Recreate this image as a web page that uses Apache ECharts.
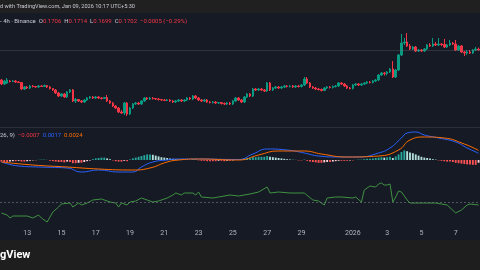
<!DOCTYPE html>
<html><head><meta charset="utf-8">
<script src="https://cdn.jsdelivr.net/npm/echarts@6/dist/echarts.min.js"></script>
<style>html,body{margin:0;padding:0;background:#161a25;}#c{width:480px;height:270px;}</style>
</head><body><div id="c"></div>
<script>
// tick labels on the time axis (category index of first 4h candle of the day)
const tickIndex = [9,21,33,45,57,69,81,93,105,123,135,147,159];
const tickLabels = ['13','15','17','19','21','23','25','27','29','2026','3','5','7'];

// 4h candles: [open, close, low, high]
const candles = [
[0.1552,0.1532,0.1527,0.1557],[0.1532,0.1547,0.1527,0.1552],[0.1537,0.1552,0.1532,0.1562],[0.1547,0.15445,0.15395,0.1552],
[0.15445,0.1547,0.1542,0.1552],[0.1547,0.1542,0.1537,0.1552],[0.1542,0.15395,0.1537,0.1547],[0.15395,0.1507,0.1502,0.1542],
[0.1507,0.1517,0.1502,0.1522],[0.1517,0.1512,0.1507,0.1522],[0.1512,0.1522,0.1507,0.1527],[0.1522,0.15195,0.15145,0.1527],
[0.15195,0.1517,0.1512,0.1522],[0.1517,0.1522,0.1512,0.1527],[0.1522,0.15195,0.1517,0.1527],[0.15195,0.15245,0.1517,0.15295],
[0.15245,0.1517,0.1512,0.1527],[0.1517,0.15095,0.15045,0.1522],[0.15095,0.1502,0.1497,0.1512],[0.1502,0.1487,0.1482,0.1507],
[0.1487,0.1472,0.1467,0.1492],[0.1472,0.1482,0.1467,0.1487],[0.1482,0.1467,0.1462,0.1487],[0.1467,0.1492,0.1462,0.1497],
[0.1492,0.1502,0.1487,0.1507],[0.1502,0.1447,0.1442,0.1507],[0.1447,0.14545,0.1437,0.1462],[0.14545,0.1447,0.1442,0.1457],
[0.1447,0.1442,0.1437,0.1452],[0.1442,0.1452,0.1437,0.1457],[0.1452,0.1462,0.1447,0.1467],[0.1462,0.1467,0.1457,0.1472],
[0.1467,0.1462,0.1457,0.1472],[0.1462,0.1467,0.1457,0.1472],[0.1467,0.1462,0.1457,0.1472],[0.1462,0.14595,0.14545,0.1467],
[0.14595,0.14645,0.1457,0.1467],[0.14645,0.1447,0.1442,0.1477],[0.1447,0.1437,0.1432,0.1452],[0.1437,0.1422,0.1417,0.1442],
[0.1422,0.1412,0.1407,0.1427],[0.1412,0.1392,0.1387,0.1417],[0.1392,0.1387,0.1382,0.1402],[0.1387,0.1437,0.1377,0.1442],
[0.1437,0.1382,0.1372,0.1442],[0.1382,0.1412,0.1377,0.1417],[0.1412,0.1432,0.1407,0.1437],[0.1432,0.1437,0.1427,0.1442],
[0.1437,0.1432,0.1427,0.1442],[0.1432,0.1447,0.1427,0.1452],[0.1447,0.1462,0.1442,0.1467],[0.1462,0.1457,0.1452,0.1467],
[0.1457,0.1462,0.1452,0.1467],[0.1462,0.14595,0.14545,0.1467],[0.14595,0.1457,0.1452,0.1462],[0.1457,0.14545,0.14495,0.1462],
[0.14545,0.1452,0.1447,0.1457],[0.1452,0.14495,0.1447,0.1457],[0.14495,0.1452,0.1447,0.1457],[0.1452,0.1447,0.1442,0.1457],
[0.1447,0.1442,0.1437,0.1452],[0.1442,0.1447,0.1437,0.1452],[0.1447,0.1452,0.1442,0.1457],[0.1452,0.1447,0.1442,0.1457],
[0.1447,0.1452,0.1442,0.1457],[0.1452,0.1462,0.1447,0.1467],[0.1462,0.1457,0.1452,0.1467],[0.1457,0.1472,0.1452,0.1477],
[0.1472,0.1462,0.1457,0.1477],[0.1462,0.1452,0.1447,0.1467],[0.1452,0.1447,0.1442,0.1457],[0.1447,0.1452,0.1442,0.1457],
[0.1452,0.1442,0.1437,0.1457],[0.1442,0.14395,0.14345,0.1447],[0.14395,0.1442,0.14345,0.1447],[0.1442,0.1437,0.1432,0.1447],
[0.1437,0.14395,0.1432,0.1442],[0.14395,0.14345,0.14295,0.1442],[0.14345,0.1432,0.1427,0.14395],[0.1432,0.1437,0.1427,0.1442],
[0.1437,0.1432,0.1427,0.1442],[0.1432,0.1447,0.1427,0.1452],[0.1447,0.1462,0.1442,0.1467],[0.1462,0.1452,0.1447,0.1467],
[0.1452,0.1442,0.1437,0.1457],[0.1442,0.1467,0.1437,0.1472],[0.1467,0.1482,0.1462,0.1487],[0.1482,0.1472,0.1467,0.1487],
[0.1472,0.1507,0.1467,0.1512],[0.1507,0.1502,0.1497,0.1512],[0.1502,0.1507,0.1497,0.1512],[0.1507,0.1502,0.1497,0.1512],
[0.1502,0.1497,0.1492,0.1507],[0.1497,0.1537,0.1492,0.1542],[0.1537,0.1502,0.1497,0.1542],[0.1502,0.1512,0.1497,0.1517],
[0.1512,0.1517,0.1507,0.1522],[0.1517,0.1512,0.1507,0.1522],[0.1512,0.1517,0.1507,0.1522],[0.1517,0.1522,0.1512,0.1527],
[0.1522,0.15195,0.15145,0.1527],[0.15195,0.1522,0.15145,0.1527],[0.1522,0.1517,0.1512,0.1527],[0.1517,0.1522,0.1512,0.1527],
[0.1522,0.15195,0.15145,0.1527],[0.15195,0.1527,0.15145,0.1532],[0.1527,0.1557,0.1522,0.1567],[0.1557,0.1537,0.1532,0.1567],
[0.1537,0.1517,0.1512,0.1542],[0.1517,0.1512,0.1507,0.1522],[0.1512,0.1507,0.1502,0.1517],[0.1507,0.15045,0.14995,0.1512],
[0.15045,0.14995,0.14945,0.15095],[0.14995,0.1512,0.1497,0.1517],[0.1512,0.1517,0.1507,0.1522],[0.1517,0.15145,0.15095,0.1522],
[0.15145,0.15195,0.15095,0.15245],[0.15195,0.1522,0.15145,0.1527],[0.1522,0.1537,0.1517,0.1542],[0.1537,0.1532,0.1527,0.1542],
[0.1532,0.1522,0.1517,0.1537],[0.1522,0.1512,0.1507,0.1527],[0.1512,0.15095,0.15045,0.1517],[0.15095,0.1527,0.15045,0.1532],
[0.1527,0.1532,0.1522,0.1537],[0.1532,0.1527,0.1522,0.1537],[0.1527,0.1532,0.1522,0.1537],[0.1532,0.1537,0.1527,0.1542],
[0.1537,0.1542,0.1532,0.1547],[0.1542,0.15395,0.15345,0.1547],[0.15395,0.1547,0.15345,0.1552],[0.1547,0.1552,0.1542,0.1557],
[0.1552,0.1577,0.1547,0.1582],[0.1577,0.1587,0.1572,0.1592],[0.1587,0.15845,0.15745,0.1592],[0.15845,0.1592,0.15745,0.1597],
[0.1592,0.1607,0.1587,0.1612],[0.1607,0.1567,0.1562,0.1647],[0.1567,0.1602,0.1562,0.1607],[0.1602,0.1677,0.1597,0.1682],
[0.1677,0.1737,0.1672,0.1782],[0.1737,0.1742,0.1727,0.1762],[0.1742,0.1722,0.1717,0.1787],[0.1722,0.1707,0.1702,0.1732],
[0.1707,0.1717,0.1702,0.1722],[0.1717,0.1697,0.1692,0.1722],[0.1697,0.1702,0.1692,0.1707],[0.1702,0.1697,0.1692,0.1707],
[0.1697,0.1707,0.1692,0.1712],[0.1707,0.1727,0.1702,0.1732],[0.1727,0.1722,0.1717,0.1737],[0.1722,0.1732,0.1717,0.1762],
[0.1732,0.1727,0.1722,0.1742],[0.1727,0.1732,0.1722,0.1762],[0.1732,0.17295,0.1722,0.1737],[0.17295,0.1717,0.1712,0.1757],
[0.1717,0.1727,0.1712,0.1732],[0.1727,0.1737,0.1722,0.1752],[0.1737,0.1732,0.1727,0.1742],[0.1732,0.1702,0.1697,0.1752],
[0.1702,0.1722,0.1697,0.1727],[0.1722,0.1692,0.1687,0.1727],[0.1692,0.1687,0.1672,0.1697],[0.1687,0.1692,0.1677,0.1702],
[0.1692,0.1687,0.1682,0.1702],[0.1687,0.1702,0.1682,0.1707],[0.1702,0.1707,0.1697,0.1717],[0.1706,0.1702,0.1699,0.1714]
];

// MACD histogram, one value per candle
const macdHist = [
-0.0004,-0.0005,-0.0005,-0.0004,-0.0003,-0.0003,-0.0002,-0.0004,-0.0004,-0.0003,-0.0002,-0.0001,-0.0001,0.00005,0.0001,0.0001,0.00002,-0.0002,-0.0003,-0.0004,
-0.0005,-0.0005,-0.0006,-0.0004,-0.0005,-0.0008,-0.0008,-0.0007,-0.0007,-0.0005,-0.0003,-0.0001,0.0002,0.0004,0.0005,0.0006,0.0006,0.0004,0.0002,-0.0001,
-0.0003,-0.0004,-0.0004,-0.0002,-0.0003,0.0001,0.0004,0.0006,0.0008,0.0010,0.0012,0.0014,0.0014,0.0013,0.0011,0.0009,0.0007,0.0006,0.0005,0.0004,
0.0003,0.0002,0.0002,0.0001,0.0001,0.0001,0.00003,0.0002,0.0001,-0.0001,-0.0002,-0.0002,-0.0003,-0.0003,-0.0003,-0.0003,-0.0002,-0.0002,-0.0003,-0.0002,
-0.0002,-0.0001,0.0001,0.0002,0.0002,0.0004,0.0005,0.0005,0.0007,0.0007,0.0008,0.0008,0.0008,0.0010,0.0008,0.0007,0.0006,0.0005,0.0004,0.0003,
0.0002,0.0001,0.0001,0.00003,-0.0001,-0.0001,0.0001,-0.0002,-0.0004,-0.0005,-0.0006,-0.0007,-0.0007,-0.0006,-0.0005,-0.0005,-0.0004,-0.0003,-0.0002,-0.0002,
-0.0002,-0.0002,-0.0001,-0.0001,0.00003,0.0001,0.0001,0.0002,0.0003,0.0003,0.0004,0.0005,0.0006,0.0007,0.0006,0.0007,0.0008,0.0005,0.0009,0.0014,
0.0020,0.0024,0.0022,0.0019,0.0017,0.0014,0.0011,0.0008,0.0006,0.0005,0.0004,0.0002,0.0001,-0.0001,-0.0002,-0.0003,-0.0004,-0.0004,-0.0005,-0.0007,
-0.0008,-0.0009,-0.0010,-0.0011,-0.0011,-0.0012,-0.0012,-0.0007
];

// MACD and signal lines: [candle index, value]
const macdLine = [[0,-0.0005],[6,-0.0015],[13,-0.00175],[23,-0.002],[28,-0.003],[34,-0.0025],[41,-0.003],[46,-0.003],[49,-0.00175],[53,-0.0005],[58,0],[62,0.00025],[69,0.00025],[83,0.000125],[88,0.0015],[93,0.00275],[100,0.0025],[106,0.00175],[111,0.001],[118,0.00075],[125,0.00075],[132,0.00175],[136,0.003],[140,0.0055],[142,0.00675],[145,0.007],[148,0.00625],[153,0.0055],[159,0.0045],[163,0.003],[167,0.0017]];
const signalLine = [[0,-0.0005],[11,-0.00125],[23,-0.00175],[34,-0.00225],[46,-0.0025],[52,-0.002],[58,-0.0005],[62,0],[69,0.00025],[83,0],[90,0.00125],[97,0.00225],[106,0.00225],[112,0.0015],[121,0.00075],[132,0.001],[139,0.0025],[143,0.005],[148,0.00575],[155,0.0055],[162,0.004],[167,0.0024]];

// RSI: [candle index, value]
const rsiLine = [[0,36.8],[2,34.4],[3,30.8],[4,33.2],[9,33.2],[11,30.8],[13,34.4],[14,30.8],[16,26],[17,32],[18,38],[20,44],[21,47.6],[24,48.8],[25,44],[27,48.8],[28,46.4],[30,48.8],[32,52.4],[35,53.6],[38,50],[40,48.8],[41,44],[42,48.8],[44,46.4],[45,50],[47,51.2],[49,54.8],[53,50],[55,51.2],[58,54.8],[60,58.4],[61,60.8],[63,58.4],[64,60.8],[67,60.8],[68,58.4],[69,62],[70,56],[74,54.8],[76,56],[80,58.4],[83,57.2],[87,59.6],[90,62],[93,68],[94,60.8],[97,62],[101,60.8],[106,60.8],[109,52.4],[111,51.2],[113,46.4],[114,54.8],[117,56],[119,56],[123,54.8],[124,56],[126,50],[127,64.4],[129,69.2],[131,68],[132,71.6],[133,72.8],[134,70.4],[135,70.4],[136,71.6],[137,50],[138,56],[139,63.2],[140,62],[142,52.4],[143,48.8],[148,48.8],[152,48.8],[154,47.6],[156,46.4],[159,36.8],[161,40.4],[163,46.4],[164,47.6],[167,46.4]];

// category axis: 4h candle times
const categories = [];
const t0 = Date.UTC(2025, 11, 11, 13, 30);
for (let i = 0; i < candles.length; i++) {
  const d = new Date(t0 + i * 4 * 3600 * 1000);
  categories.push(d.toISOString().slice(0, 16).replace('T', ' '));
}

const UP = '#089981', DOWN = '#f23645';
const histData = macdHist.map((v, i) => {
  const p = i > 0 ? macdHist[i - 1] : v;
  let c;
  if (v >= 0) c = v >= p ? '#26a69a' : '#b2dfdb';
  else c = v <= p ? '#ff5252' : '#ffcdd2';
  return { value: v, itemStyle: { color: c } };
});

const FONT = 'Roboto';
const hiddenX = (g) => ({ type: 'category', gridIndex: g, data: categories, boundaryGap: true,
  axisLine: { show: false }, axisTick: { show: false }, axisLabel: { show: false }, splitLine: { show: false } });
const hiddenY = (g, min, max) => ({ type: 'value', gridIndex: g, min, max, scale: true,
  axisLine: { show: false }, axisTick: { show: false }, axisLabel: { show: false }, splitLine: { show: false } });

const chart = echarts.init(document.getElementById('c'), null, { renderer: 'canvas' });
chart.setOption({
  backgroundColor: '#161a25',
  animation: false,
  grid: [
    { left: 0, width: 482, top: 13, height: 114 },
    { left: 0, width: 482, top: 127, height: 53 },
    { left: 0, width: 482, top: 180, height: 45 }
  ],
  xAxis: [
    hiddenX(0), hiddenX(1),
    Object.assign(hiddenX(2), {
      axisLabel: {
        show: true, color: '#b2b5be', fontSize: 7, fontFamily: FONT, margin: 5,
        interval: (idx) => tickIndex.indexOf(idx) >= 0,
        formatter: (val, idx) => tickLabels[tickIndex.indexOf(idx)] || ''
      }
    })
  ],
  yAxis: [hiddenY(0, 0.1317, 0.1887), hiddenY(1, -0.005, 0.00825), hiddenY(2, 22.4, 76.4)],
  series: [
    {
      type: 'candlestick', xAxisIndex: 0, yAxisIndex: 0, data: candles, barWidth: '70%',
      itemStyle: { color: UP, color0: DOWN, borderColor: UP, borderColor0: DOWN, borderWidth: 1 },
      markLine: { silent: true, symbol: 'none', label: { show: false },
        lineStyle: { color: 'rgba(120,123,134,0.28)', type: 'solid', width: 1 },
        data: [{ yAxis: 0.1702 }] }
    },
    { type: 'bar', xAxisIndex: 1, yAxisIndex: 1, data: histData, barWidth: '65%' },
    { type: 'line', xAxisIndex: 1, yAxisIndex: 1, data: macdLine, smooth: true, showSymbol: false,
      lineStyle: { color: '#2962ff', width: 1 } },
    { type: 'line', xAxisIndex: 1, yAxisIndex: 1, data: signalLine, smooth: true, showSymbol: false,
      lineStyle: { color: '#ff6d00', width: 1 } },
    { type: 'line', xAxisIndex: 2, yAxisIndex: 2, data: rsiLine, smooth: false, showSymbol: false,
      lineStyle: { color: '#3f9142', width: 1 },
      markLine: { silent: true, symbol: 'none', label: { show: false },
        lineStyle: { color: 'rgba(120,123,134,0.6)', type: [2, 2], width: 1 },
        data: [{ yAxis: 50 }] } }
  ],
  graphic: [
    { type: 'rect', shape: { x: 0, y: 0, width: 480, height: 13 }, style: { fill: '#202020' }, z: 10 },
    { type: 'rect', shape: { x: 0, y: 240, width: 480, height: 30 }, style: { fill: '#1e1e1e' }, z: 10 },
    { type: 'line', shape: { x1: 0, y1: 127.5, x2: 480, y2: 127.5 }, style: { stroke: '#2a2e39', lineWidth: 1 }, z: 10 },
    { type: 'text', x: 0, y: 7, z: 11, style: { text: 'd with TradingView.com, Jan 09, 2026 10:17 UTC+5:30',
      fill: '#c9ccd3', fontSize: 5.6, fontFamily: FONT, verticalAlign: 'middle' } },
    { type: 'text', x: 0, y: 21, z: 11, style: {
      text: '{a|- 4h · Binance}  {k|O}{v|0.1706}  {k|H}{v|0.1714}  {k|L}{v|0.1699}  {k|C}{v|0.1702}  {v|−0.0005 (−0.29%)}',
      fontSize: 6, fontFamily: FONT, verticalAlign: 'middle',
      rich: { a: { fill: '#c9ccd3', fontSize: 6, fontFamily: FONT }, k: { fill: '#c9ccd3', fontSize: 6, fontFamily: FONT },
              v: { fill: '#f23645', fontSize: 6, fontFamily: FONT } } } },
    { type: 'text', x: 0, y: 135, z: 11, style: {
      text: '{a|26, 9)}  {r|−0.0007}  {b|0.0017}  {o|0.0024}',
      fontSize: 6, fontFamily: FONT, verticalAlign: 'middle',
      rich: { a: { fill: '#c9ccd3', fontSize: 6, fontFamily: FONT }, r: { fill: '#f23645', fontSize: 6, fontFamily: FONT },
              b: { fill: '#2962ff', fontSize: 6, fontFamily: FONT }, o: { fill: '#ff6d00', fontSize: 6, fontFamily: FONT } } } },
    { type: 'text', x: 0, y: 255, z: 11, style: { text: 'gView', fill: '#ffffff', fontSize: 11, fontWeight: 'bold',
      fontFamily: FONT, verticalAlign: 'middle' } }
  ]
});
</script></body></html>
